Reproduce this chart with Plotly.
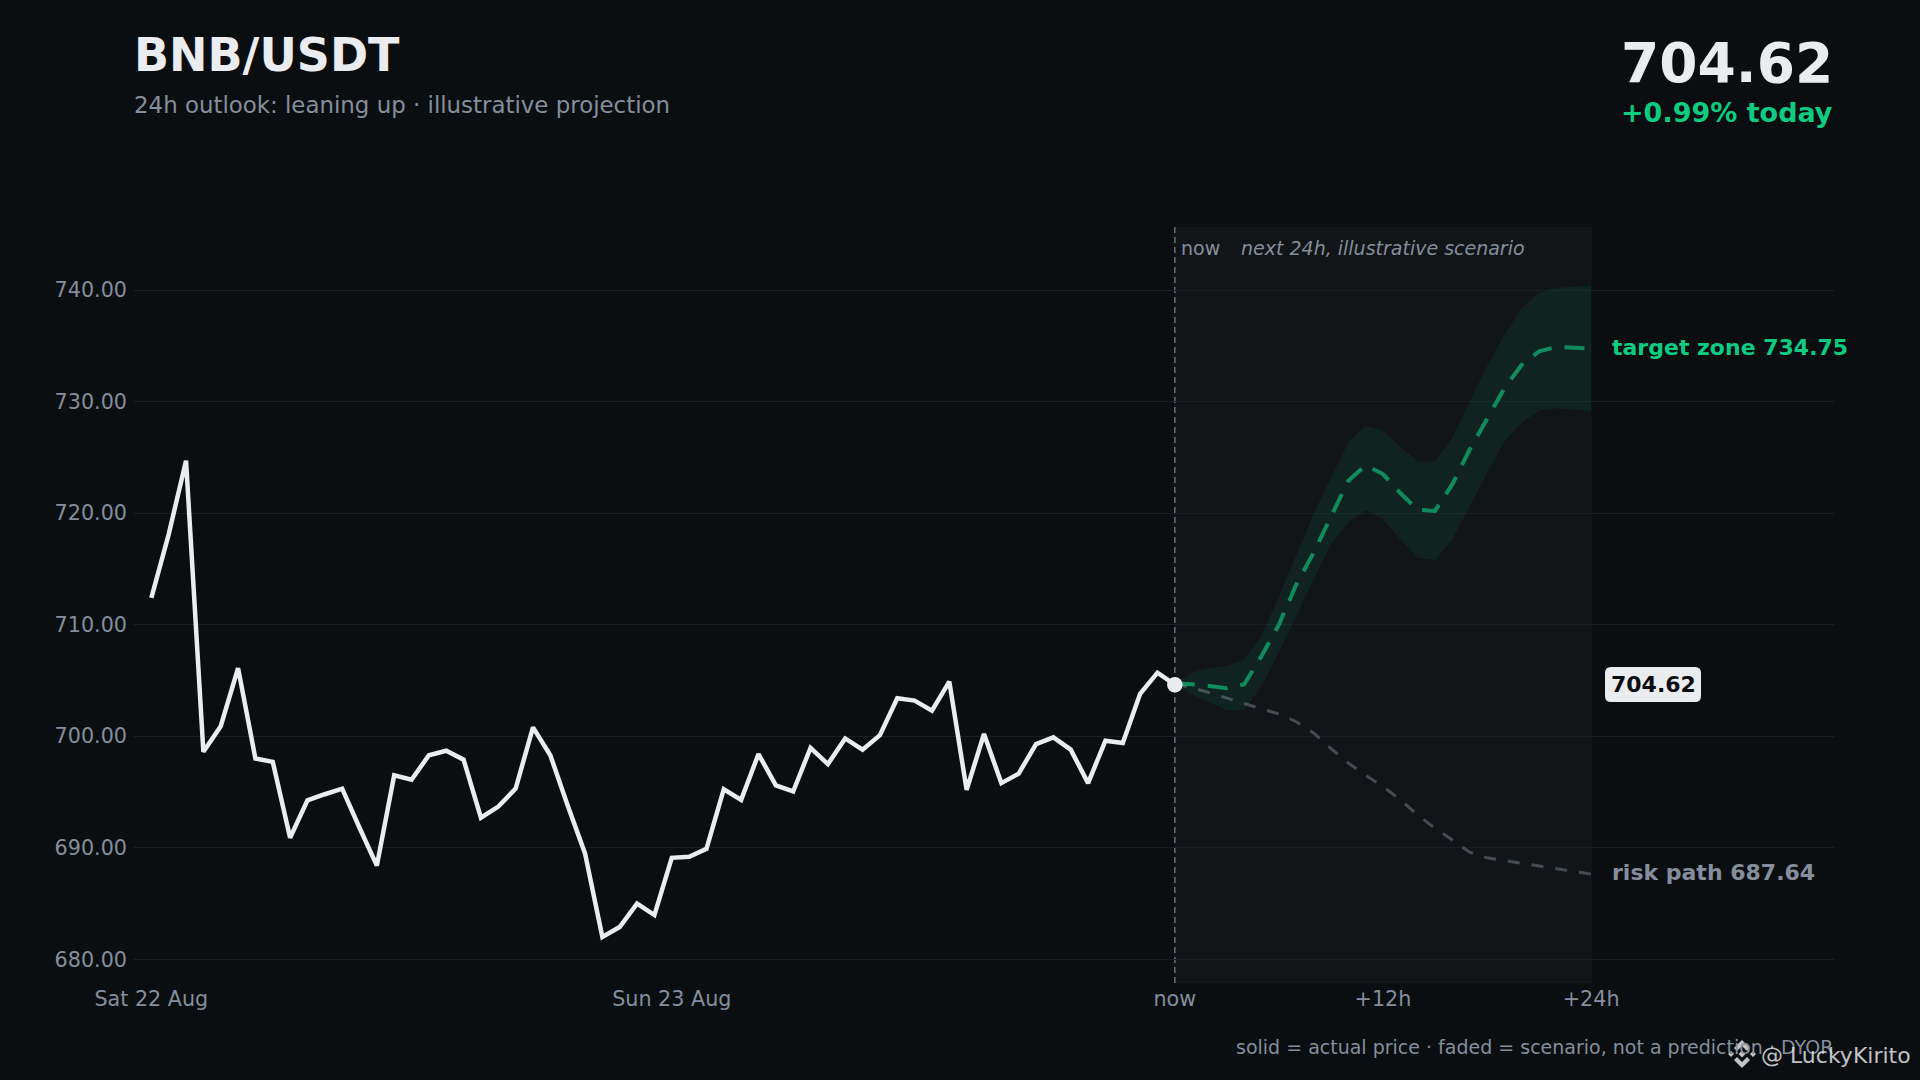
import plotly.graph_objects as go

W, H = 1920, 1080
PL, PR, PT, PB = 134, 1834, 227, 983

history = [712.41, 718.1, 724.7, 698.6, 700.9, 706.1, 698.0, 697.7, 690.9, 694.25,
           694.8, 695.3, 691.8, 688.4, 696.5, 696.1, 698.3, 698.7, 697.9, 692.7,
           693.7, 695.3, 700.8, 698.3, 693.8, 689.5, 682.0, 682.9, 685.0, 683.97,
           689.1, 689.2, 689.9, 695.25, 694.3, 698.4, 695.6, 695.05, 698.95, 697.5,
           699.8, 698.8, 700.1, 703.4, 703.2, 702.3, 704.9, 695.2, 700.2, 695.8,
           696.65, 699.3, 699.9, 698.8, 695.8, 699.6, 699.4, 703.8, 705.7, 704.62]
target = [704.72, 704.66, 704.5, 704.3, 704.66, 707.2, 710.0, 713.6, 716.45, 719.7,
          722.9, 724.3, 723.5, 721.8, 720.3, 720.2, 722.6, 725.7, 728.4, 731.2,
          733.3, 734.5, 734.9, 734.8, 734.75]
upper = [704.7, 705.7, 706.15, 706.3, 706.9, 709.0, 712.55, 716.3, 719.9, 723.2,
         726.3, 727.85, 727.4, 725.95, 724.65, 724.65, 726.75, 730.0, 733.15, 736.0,
         738.4, 739.7, 740.2, 740.3, 740.4]
lower = [704.7, 703.75, 703.0, 702.35, 702.35, 704.5, 707.5, 710.8, 714.05, 717.2,
         719.15, 720.25, 719.45, 717.65, 716.0, 715.8, 717.65, 720.6, 723.6, 726.45,
         728.1, 729.2, 729.4, 729.3, 729.15]
risk = [704.66, 704.36, 703.9, 703.4, 702.95, 702.45, 702.0, 701.3, 700.3, 698.9,
        697.6, 696.5, 695.5, 694.3, 692.95, 691.75, 690.7, 689.6, 689.1, 688.85,
        688.6, 688.4, 688.1, 687.9, 687.64]
y_ticks = [680, 690, 700, 710, 720, 730, 740]
x_tick_pos = [0, 30, 59, 71, 83]
x_tick_text = ["Sat 22 Aug", "Sun 23 Aug", "now", "+12h", "+24h"]

BG = "#0b0e11"
TXT = "#eaecef"
GREY = "#848e9c"
GREEN = "#0ecb81"
FONT = "DejaVu Sans"

hist_x = list(range(len(history)))
now_i = hist_x[-1]
fut_x = [now_i + i for i in range(len(target))]


def px(x):
    return (x - PL) / (PR - PL)


def py(y):
    return 1 - (y - PT) / (PB - PT)


fig = go.Figure()
fig.add_trace(go.Scatter(x=fut_x, y=upper, mode="lines", line=dict(width=0), hoverinfo="skip"))
fig.add_trace(go.Scatter(x=fut_x, y=lower, mode="lines", line=dict(width=0), fill="tonexty",
                         fillcolor="rgba(14,203,129,0.08)", hoverinfo="skip"))
fig.add_trace(go.Scatter(x=fut_x, y=risk, mode="lines",
                         line=dict(color="rgba(132,142,156,0.45)", width=3, dash="12px,12px")))
fig.add_trace(go.Scatter(x=fut_x, y=target, mode="lines",
                         line=dict(color="rgba(14,203,129,0.62)", width=4, dash="20px,13px")))
fig.add_trace(go.Scatter(x=hist_x, y=history, mode="lines",
                         line=dict(color=TXT, width=4.5, shape="linear")))
fig.add_trace(go.Scatter(x=[now_i], y=[history[-1]], mode="markers",
                         marker=dict(color=TXT, size=15.5, line=dict(width=0))))


def text(x, y, s, size, color, anchor="left", bold=False, italic=False, yanchor="middle"):
    fig.add_annotation(xref="paper", yref="paper", x=px(x), y=py(y), text=s, showarrow=False,
                       xanchor=anchor, yanchor=yanchor, align=anchor, borderpad=0, borderwidth=0,
                       font=dict(family=FONT, size=size, color=color,
                                 weight="bold" if bold else "normal",
                                 style="italic" if italic else "normal"))


text(134, 55, "BNB/USDT", 46, TXT, bold=True)
text(134, 105, "24h outlook: leaning up · illustrative projection", 22.9, GREY)
text(1833, 63, "704.62", 55, TXT, anchor="right", bold=True)
text(1833, 112, "+0.99% today", 27, GREEN, anchor="right", bold=True)
text(1181, 248, "now", 19, GREY)
text(1241, 248, "next 24h, illustrative scenario", 19, GREY, italic=True)
text(1612, 347, "target zone 734.75", 22, GREEN, bold=True)
text(1612, 872, "risk path 687.64", 22, GREY, bold=True)
text(1653, 684, "704.62", 22, BG, anchor="center", bold=True)
text(1833, 1047, "solid = actual price · faded = scenario, not a prediction · DYOR", 19, GREY, anchor="right")
text(1911, 1055, "@ LuckyKirito", 22, "rgba(234,236,239,0.82)", anchor="right")


def rounded(x0, y0, x1, y1, r):
    X, Y = px, py
    return (f"M {X(x0 + r)} {Y(y0)} L {X(x1 - r)} {Y(y0)} Q {X(x1)} {Y(y0)} {X(x1)} {Y(y0 + r)} "
            f"L {X(x1)} {Y(y1 - r)} Q {X(x1)} {Y(y1)} {X(x1 - r)} {Y(y1)} "
            f"L {X(x0 + r)} {Y(y1)} Q {X(x0)} {Y(y1)} {X(x0)} {Y(y1 - r)} "
            f"L {X(x0)} {Y(y0 + r)} Q {X(x0)} {Y(y0)} {X(x0 + r)} {Y(y0)} Z")


def polygon(cx, cy, pts):
    body = " L ".join(f"{px(cx + a)} {py(cy + b)}" for a, b in pts)
    return f"M {body} Z"


shapes = [
    dict(type="rect", xref="x", yref="paper", x0=now_i, x1=fut_x[-1], y0=0, y1=1, layer="below",
         fillcolor="rgba(255,255,255,0.03)", line=dict(color="rgba(255,255,255,0.03)", width=1)),
    dict(type="line", xref="x", yref="paper", x0=now_i, x1=now_i, y0=0, y1=1, layer="below",
         line=dict(color="rgba(132,142,156,0.75)", width=1.5, dash="6px,4px")),
    dict(type="path", xref="paper", yref="paper", path=rounded(1605, 667, 1701, 702, 6),
         fillcolor=TXT, line=dict(width=0), layer="below"),
]
logo_c = (1742, 1054)
logo_parts = [
    [(0, -14), (8, -6), (5, -3), (0, -8), (-5, -3), (-8, -6)],
    [(0, 14), (8, 6), (5, 3), (0, 8), (-5, 3), (-8, 6)],
    [(-14, 0), (-11, -3), (-8, 0), (-11, 3)],
    [(14, 0), (11, -3), (8, 0), (11, 3)],
    [(0, -3.5), (3.5, 0), (0, 3.5), (-3.5, 0)],
]
for pts in logo_parts:
    shapes.append(dict(type="path", xref="paper", yref="paper", path=polygon(*logo_c, pts),
                       fillcolor="rgba(234,236,239,0.82)", line=dict(width=0), layer="above"))

axis_font = dict(family=FONT, size=20.7, color=GREY)
fig.update_layout(
    width=W, height=H, autosize=False, showlegend=False, hovermode=False,
    paper_bgcolor=BG, plot_bgcolor=BG, font=dict(family=FONT),
    margin=dict(l=PL, r=W - PR, t=PT, b=H - PB, pad=0),
    shapes=shapes,
    xaxis=dict(range=[-1, 97], tickmode="array", tickvals=x_tick_pos, ticktext=x_tick_text,
               showgrid=False, zeroline=False, showline=False, ticks="", tickfont=axis_font,
               ticklabelstandoff=1),
    yaxis=dict(range=[677.88, 745.65], tickmode="array", tickvals=y_ticks,
               ticktext=[f"{v:.2f}" for v in y_ticks], showgrid=True, gridcolor="#1a1f27",
               gridwidth=1, zeroline=False, showline=False, ticks="", tickfont=axis_font,
               ticklabelstandoff=6),
)
fig.write_html("out.html", config={"displayModeBar": False},
               post_script="document.documentElement.style.background='#0b0e11';"
                           "document.body.style.margin='0';document.body.style.overflow='hidden';"
                           "document.body.style.background='#0b0e11';")
